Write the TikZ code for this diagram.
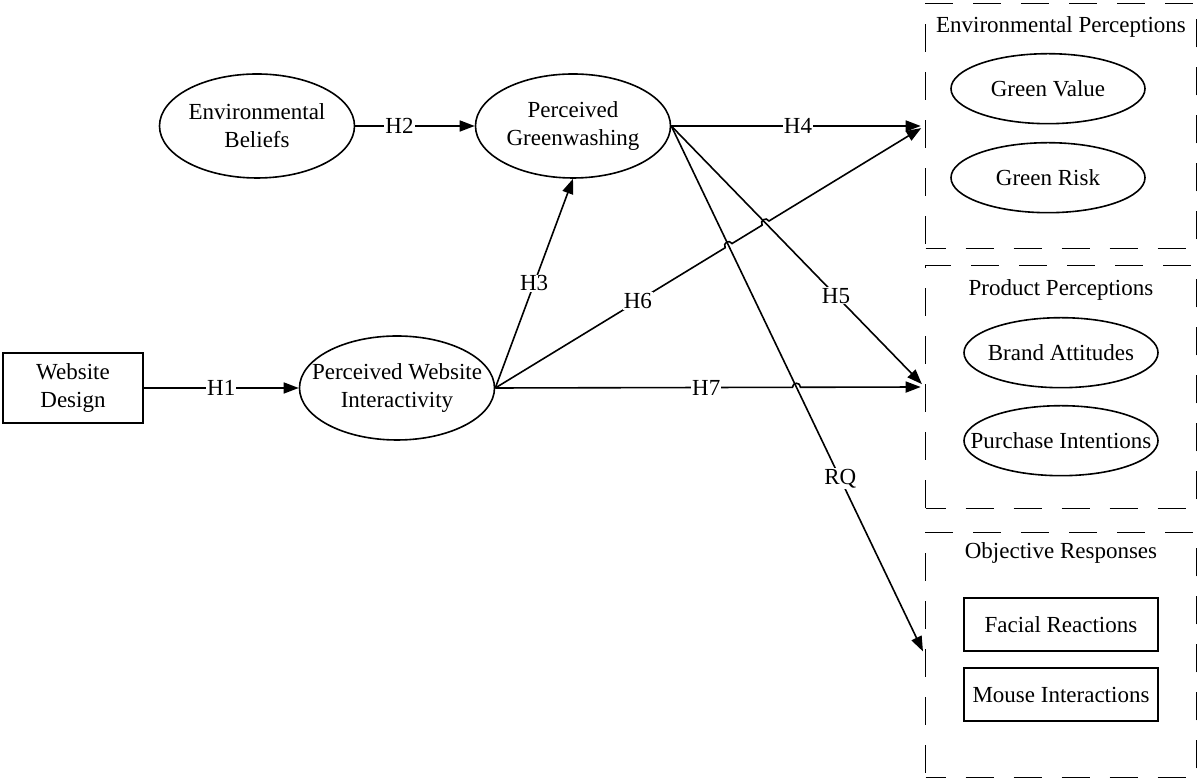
\documentclass[tikz,border=0pt]{standalone}
\usepackage{fontspec}
\setmainfont{Liberation Serif}
\usetikzlibrary{shapes.geometric,arrows.meta,positioning,calc,intersections}

\begin{document}
\begin{tikzpicture}[node distance=162pt,>={Triangle[length=7.5pt,width=5.5pt]},thick,
    font=\fontsize{11.5pt}{14pt}\selectfont,
    box/.style={draw, rectangle, inner sep=2pt, align=center},
    oval/.style={draw, ellipse, minimum width=97.5pt, minimum height=52pt, label={[align=center]center:#1}},
    soval/.style={oval=#1, minimum width=97pt, minimum height=35pt},
    group/.style={draw, rectangle, dash pattern=on 14pt off 10pt, dash phase=4pt, minimum width=135.5pt, minimum height=122.5pt},
    lbl/.style={fill=white, inner sep=0.5pt},
    hop/.style={to path={.. controls ($(\tikztostart)!0.67!90:(\tikztotarget)$) and ($(\tikztotarget)!0.67!-90:(\tikztostart)$) .. (\tikztotarget)}}]
        \useasboundingbox (-36.5pt,194pt) rectangle (563.5pt,-196pt);

        \node (web) [box, minimum width=70pt, minimum height=35pt] {Website\\Design};
        \node (pwi) [oval={Perceived Website\\Interactivity}, right of=web] {};
        \node (gw) [oval={Perceived\\Greenwashing}, node distance=131pt, above of=pwi, xshift=88pt] {};
        \node (eb) [oval={Environmental\\Beliefs}, node distance=158pt, left of=gw] {};

        % outcome groups
        \node (envbox) [group, node distance=244pt, right of=gw] {};
        \node (prodbox) [group, minimum height=121.5pt, node distance=130.5pt, below of=envbox] {};
        \node (objbox) [group, node distance=134pt, below of=prodbox] {};

        \node (envtitle) at ([yshift=-12pt]envbox.north) {Environmental Perceptions};
        \node (prodtitle) at ([yshift=-12.5pt]prodbox.north) {Product Perceptions};
        \node (objtitle) at ([yshift=-10.5pt]objbox.north) {Objective Responses};

        \node (gv) [soval=Green Value, node distance=31pt, below of=envtitle, xshift=-6.5pt] {};
        \node (gr) [soval=Green Risk, node distance=44.5pt, below of=gv] {};
        \node (ba) [soval=Brand Attitudes, node distance=31.5pt, below of=prodtitle] {};
        \node (purint) [soval=Purchase Intentions, node distance=44pt, below of=ba] {};
        \node (fr) [box, minimum width=97pt, minimum height=26.5pt, node distance=36pt, below of=objtitle] {Facial Reactions};
        \node (mi) [box, minimum width=97pt, minimum height=26.5pt, node distance=35pt, below of=fr] {Mouse Interactions};

        \draw[->] (web.east) -- node[lbl] {H1} (pwi.west);
        \draw[->] (eb.east) -- node[lbl, pos=0.37] {H2} (gw.west);
        \draw[->] (pwi.east) -- node[lbl] {H3} (gw.south);
        \draw[->, shorten >=2pt] (gw.east) -- node[lbl] {H4} (envbox.west);
        \draw[->, shorten >=2pt] (gw.east) -- node[lbl, pos=0.65] {H5} (prodbox.west);
        \draw[->, shorten >=2pt] (gw.east) -- node[lbl, pos=0.667] {RQ} (objbox.west);

        % line hops
        \path[name path=rqline] (gw.east) -- (objbox.west);
        \path[name path=hfive] (gw.east) -- (prodbox.west);
        \path[name path=hsix] (pwi.east) -- (envbox.west);
        \path[name path=hseven] (pwi.east) -- (prodbox.west);
        \path[name intersections={of=hsix and rqline, by=cross1}];
        \path[name intersections={of=hsix and hfive, by=cross2}];
        \path[name intersections={of=hseven and rqline, by=cross3}];
        \coordinate (cross1a) at ($(cross1)!2pt!(pwi.east)$);
        \coordinate (cross1b) at ($(cross1)!2pt!(envbox.west)$);
        \coordinate (cross2a) at ($(cross2)!2pt!(pwi.east)$);
        \coordinate (cross2b) at ($(cross2)!2pt!(envbox.west)$);
        \coordinate (cross3a) at ($(cross3)!2pt!(pwi.east)$);
        \coordinate (cross3b) at ($(cross3)!2pt!(prodbox.west)$);

        \draw[->, shorten >=2pt] (pwi.east) -- node[lbl, pos=0.62] {H6} (cross1a) to[hop] (cross1b) -- (cross2a) to[hop] (cross2b) -- (envbox.west);
        \draw[->, shorten >=2pt] (pwi.east) -- node[lbl, pos=0.71] {H7} (cross3a) to[hop] (cross3b) -- (prodbox.west);
    \end{tikzpicture}
\end{document}
